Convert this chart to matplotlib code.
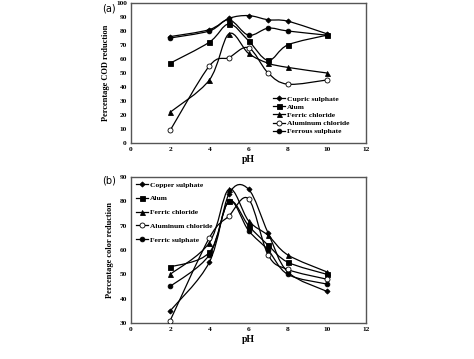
import matplotlib
matplotlib.use("Agg")
import matplotlib.pyplot as plt
from matplotlib.path import Path
from matplotlib.patches import PathPatch
from matplotlib.lines import Line2D

plt.rcParams["font.family"] = ["Liberation Serif", "DejaVu Serif"]
plt.rcParams["font.weight"] = "bold"

ph = [2, 4, 5, 6, 7, 8, 10]

# (a) COD reduction
cod_labels = ["Cupric sulphate", "Alum", "Ferric chloride", "Aluminum chloride", "Ferrous sulphate"]
cod_cupric = [76, 81, 89, 91, 88, 87, 78]
cod_alum = [57, 72, 85, 73, 59, 70, 77]
cod_ferric_cl = [22, 45, 78, 64, 57, 54, 50]
cod_al_cl = [9, 55, 61, 68, 50, 42, 45]
cod_ferrous = [75, 80, 88, 77, 82, 80, 77]

# (b) colour reduction
col_labels = ["Copper sulphate", "Alum", "Ferric chloride", "Aluminum chloride", "Ferric sulphate"]
col_copper = [35, 55, 83, 85, 67, 51, 43]
col_alum = [53, 59, 80, 70, 62, 55, 50]
col_ferric_cl = [50, 63, 85, 72, 66, 58, 51]
col_al_cl = [31, 65, 74, 81, 58, 52, 48]
col_ferric_s = [45, 58, 80, 68, 60, 50, 46]

# marker styles per series position: (marker, size, facecolor)
styles = [("D", 2.6, "black"), ("s", 3.6, "black"), ("^", 3.6, "black"),
          ("o", 3.6, "white"), ("o", 3.4, "black")]


def smooth_line(ax, xs, ys):
    # excel-style smoothed line drawn as cubic bezier segments
    pts = list(zip(xs, ys))
    n = len(pts)
    verts = [pts[0]]
    codes = [Path.MOVETO]
    for i in range(n - 1):
        p0 = pts[i - 1] if i > 0 else pts[i]
        p1 = pts[i]
        p2 = pts[i + 1]
        p3 = pts[i + 2] if i + 2 < n else pts[i + 1]
        c1 = (p1[0] + (p2[0] - p0[0]) / 6, p1[1] + (p2[1] - p0[1]) / 6)
        c2 = (p2[0] - (p3[0] - p1[0]) / 6, p2[1] - (p3[1] - p1[1]) / 6)
        verts += [c1, c2, p2]
        codes += [Path.CURVE4] * 3
    ax.add_patch(PathPatch(Path(verts, codes), fill=False, edgecolor="black", lw=0.9))


def draw_panel(ax, series, labels, ylim, ystep, ylabel, legend_loc, anchor, spacing):
    for ys, (m, ms, fc) in zip(series, styles):
        smooth_line(ax, ph, ys)
        ax.plot(ph, ys, ls="none", marker=m, ms=ms, mfc=fc, mec="black", mew=0.6, zorder=3)
    handles = [Line2D([], [], color="black", lw=0.9, marker=m, ms=ms, mfc=fc, mec="black", mew=0.6)
               for m, ms, fc in styles]
    ax.legend(handles, labels, loc=legend_loc, bbox_to_anchor=anchor, frameon=False,
              fontsize=5.4, handlelength=1.6, handletextpad=0.3, labelspacing=spacing,
              borderaxespad=0.2)
    ax.set_xlim(0, 12)
    ax.set_xticks(range(0, 13, 2))
    ax.set_ylim(*ylim)
    ax.set_yticks(range(ylim[0], ylim[1] + 1, ystep))
    ax.tick_params(length=0, labelsize=5.3, pad=3)
    for lab in ax.get_xticklabels() + ax.get_yticklabels():
        lab.set_fontweight("bold")
    for s in ax.spines.values():
        s.set_color("#555555")
        s.set_linewidth(1.0)
    ax.set_xlabel("pH", fontsize=7, fontweight="bold", labelpad=2)
    ax.set_ylabel(ylabel, fontsize=6, fontweight="bold", labelpad=4)


fig = plt.figure(figsize=(4.74, 3.59), dpi=100)
ax_a = fig.add_axes([0.2764, 0.6017, 0.4958, 0.39])
ax_b = fig.add_axes([0.2764, 0.1003, 0.4958, 0.4067])

draw_panel(ax_a, [cod_cupric, cod_alum, cod_ferric_cl, cod_al_cl, cod_ferrous], cod_labels,
           (0, 100), 10, "Percentage COD reduction", "lower right", (0.95, 0.03), 0.25)
draw_panel(ax_b, [col_copper, col_alum, col_ferric_cl, col_al_cl, col_ferric_s], col_labels,
           (30, 90), 10, "Percentage color reduction", "upper left", (0.0, 1.0), 1.0)

fig.text(0.216, 0.968, "(a)", fontsize=7, fontweight="normal", family="DejaVu Sans")
fig.text(0.216, 0.488, "(b)", fontsize=7, fontweight="normal", family="DejaVu Sans")

fig.savefig("out.png", dpi=100)
